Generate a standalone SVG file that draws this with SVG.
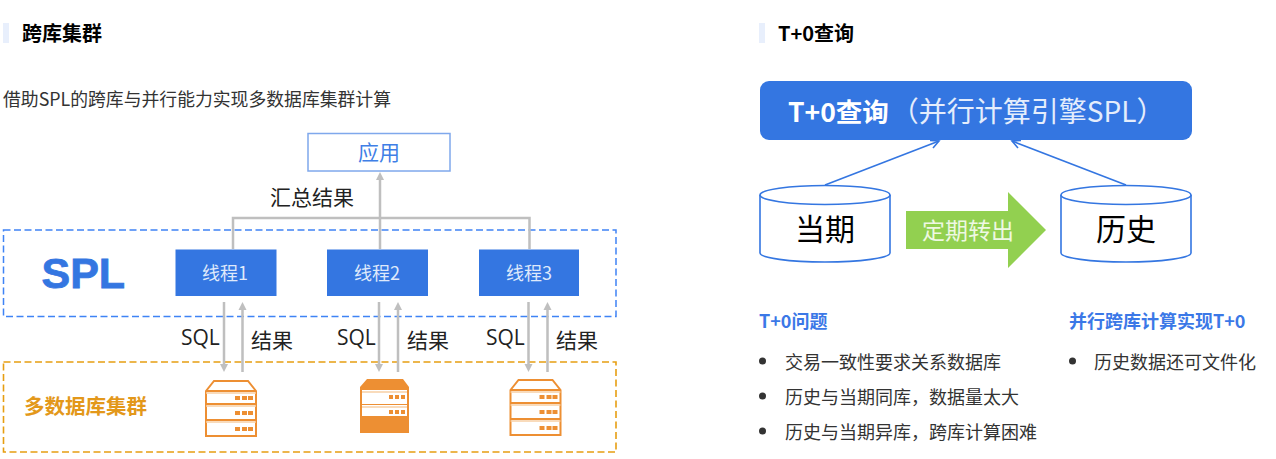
<svg xmlns="http://www.w3.org/2000/svg" width="1276" height="459" viewBox="0 0 1276 459">
<style>
text{font-family:"Liberation Sans","Noto Sans CJK SC",sans-serif}
.cjk{font-family:"Noto Sans CJK SC","Liberation Sans",sans-serif}
.ya{font-family:"Open Sans","Noto Sans CJK SC",sans-serif}
.h{font-size:20px;font-weight:700;fill:#000}
.b{font-size:18px;fill:#333}
.sub{font-size:18px;font-weight:700;fill:#3b78e7}
.lbl{font-size:21px;fill:#222}
.th{font-size:18px;fill:#dfe9fb;text-anchor:middle}
.gl{stroke:#bfbfbf;stroke-width:2.500;fill:none}
.srv{fill:none;stroke:#ed8f33;stroke-width:2}
.dot{fill:#ed8f33}
.cyl{fill:#fff;stroke:#3476e1;stroke-width:1.600}
.bl{fill:none;stroke:#3476e1;stroke-width:1.600}
</style>
<defs>
<g id="srv3"><path class="srv" d="M206 436V391L214 381H248L256 391V436ZM206 391H256M206 404H256M206 420H256"/><path d="M206 393H256M206 406H256M206 422H256" stroke="#f7cfa5" stroke-width="1.500" fill="none"/><path class="dot" d="M235 396h5v4h-5zM242 396h5v4h-5zM248 396h5v4h-5zM235 411h5v4h-5zM242 411h5v4h-5zM248 411h5v4h-5zM235 427h5v4h-5zM242 427h5v4h-5zM248 427h5v4h-5z"/></g>
</defs>

<g id="title-left"><rect x="3" y="23" width="6" height="20" fill="#e8effc"/><text class="h cjk" x="22" y="41">跨库集群</text></g>
<text class="b cjk" x="3" y="106" textLength="388" lengthAdjust="spacingAndGlyphs">借助SPL的跨库与并行能力实现多数据库集群计算</text>
<g id="title-right"><rect x="759" y="23" width="6" height="20" fill="#e8effc"/><text class="h cjk" x="778" y="41">T+0查询</text></g>

<g id="spl-zone"><rect x="3.500" y="230" width="612.500" height="86.500" fill="none" stroke="#3f83f5" stroke-width="1.500" stroke-dasharray="7 3.500"/><text x="41.500" y="288" font-size="43" font-weight="700" fill="#3476e1" stroke="#3476e1" stroke-width=".8">SPL</text></g>
<g id="db-zone"><rect x="3.500" y="362" width="612.500" height="90" fill="none" stroke="#e69e12" stroke-width="1.600" stroke-dasharray="7 3.500"/><text class="cjk" x="24" y="414" font-size="20.500" font-weight="700" fill="#e3981a">多数据库集群</text></g>

<g id="connectors">
<path class="gl" d="M233 249V218H529.500V249"/>
<path class="gl" d="M380 249V176"/>
<path d="M376 180L380 172L384 180Z" fill="#bfbfbf"/>
<path class="gl" d="M224 302V366M379 302V366M528.500 302V366M242.500 372V308M398 372V308M547.500 372V308"/>
<path fill="#bfbfbf" d="M220 364H228L224 372ZM375 364H383L379 372ZM524.500 364H532.500L528.500 372ZM238.500 310H246.500L242.500 302ZM394 310H402L398 302ZM543.500 310H551.500L547.500 302Z"/>
<path class="bl" d="M825 185L939 141"/>
<path class="bl" d="M1126 185L1012 141"/>
<path class="bl" d="M930 140.500L939 141L933 148M1021 140.500L1012 141L1018 148"/>
</g>

<g id="app"><rect x="308" y="133.500" width="142" height="37.500" fill="#fff" stroke="#7fa8ec" stroke-width="1.500"/><text class="cjk" x="379" y="160" font-size="21" text-anchor="middle" fill="#3f7fe6">应用</text></g>
<text class="lbl cjk" x="270" y="205">汇总结果</text>

<g id="t1"><rect x="175.500" y="249.500" width="101" height="46.500" fill="#3476e1"/><text class="th cjk" x="225" y="280">线程1</text></g>
<g id="t2"><rect x="327" y="249.500" width="101" height="46.500" fill="#3476e1"/><text class="th cjk" x="377" y="280">线程2</text></g>
<g id="t3"><rect x="479" y="249.500" width="100" height="46.500" fill="#3476e1"/><text class="th cjk" x="529" y="280">线程3</text></g>

<g id="labels">
<text class="lbl ya" x="181" y="345">SQL</text><text class="lbl cjk" x="251" y="348">结果</text>
<text class="lbl ya" x="337" y="345">SQL</text><text class="lbl cjk" x="407" y="348">结果</text>
<text class="lbl ya" x="486" y="345">SQL</text><text class="lbl cjk" x="556" y="348">结果</text>
</g>

<g id="server1"><use href="#srv3"/></g>
<g id="server2"><path fill="#ed8f33" d="M360 433V387L367 379H403L409 387V433Z"/><path fill="#fff" d="M362 390H407V404H362ZM362 405H407V416H362Z"/><path d="M362 392H407M362 407H407" stroke="#f7cfa5" stroke-width="1.500"/><path class="dot" d="M389 395h4v4h-4zM395 395h4v4h-4zM401 395h4v4h-4zM389 410h4v4h-4zM395 410h4v4h-4zM401 410h4v4h-4z"/></g>
<g id="server3" transform="translate(304.500 -1)"><use href="#srv3"/></g>

<g id="t0-engine"><rect x="760" y="81" width="432" height="59" rx="9" fill="#3476e1"/><text x="788" y="122" font-size="28" fill="#fff" class="cjk"><tspan font-weight="700" font-size="26.500">T+0查询</tspan><tspan fill="#e4edfc" dx="2">（并行计算引擎SPL）</tspan></text></g>

<g id="cyl-current"><path class="cyl" d="M760 195V253C760 258 790 262 825 262S890 258 890 253V195"/><ellipse class="cyl" cx="825" cy="195" rx="65" ry="9.500"/><text class="cjk" x="825" y="240" font-size="30" text-anchor="middle" fill="#000">当期</text></g>
<g id="cyl-history"><path class="cyl" d="M1061 195V253C1061 258 1091 262 1126 262S1191 258 1191 253V195"/><ellipse class="cyl" cx="1126" cy="195" rx="65" ry="9.500"/><text class="cjk" x="1126" y="240" font-size="30" text-anchor="middle" fill="#000">历史</text></g>
<g id="transfer"><path d="M906 211H1008V192L1046 230L1008 268V249H906Z" fill="#92d050"/><text class="cjk" x="922" y="239" font-size="23" fill="#eef8e2">定期转出</text></g>

<g id="notes">
<text class="sub cjk" x="759" y="328">T+0问题</text>
<text class="sub cjk" x="1069" y="328">并行跨库计算实现T+0</text>
<circle cx="762.500" cy="361" r="3.500" fill="#333"/><text class="b cjk" x="785" y="369">交易一致性要求关系数据库</text>
<circle cx="762.500" cy="396" r="3.500" fill="#333"/><text class="b cjk" x="785" y="404">历史与当期同库，数据量太大</text>
<circle cx="762.500" cy="431" r="3.500" fill="#333"/><text class="b cjk" x="785" y="439">历史与当期异库，跨库计算困难</text>
<circle cx="1072.500" cy="361" r="3.500" fill="#333"/><text class="b cjk" x="1094" y="369">历史数据还可文件化</text>
</g>
</svg>
